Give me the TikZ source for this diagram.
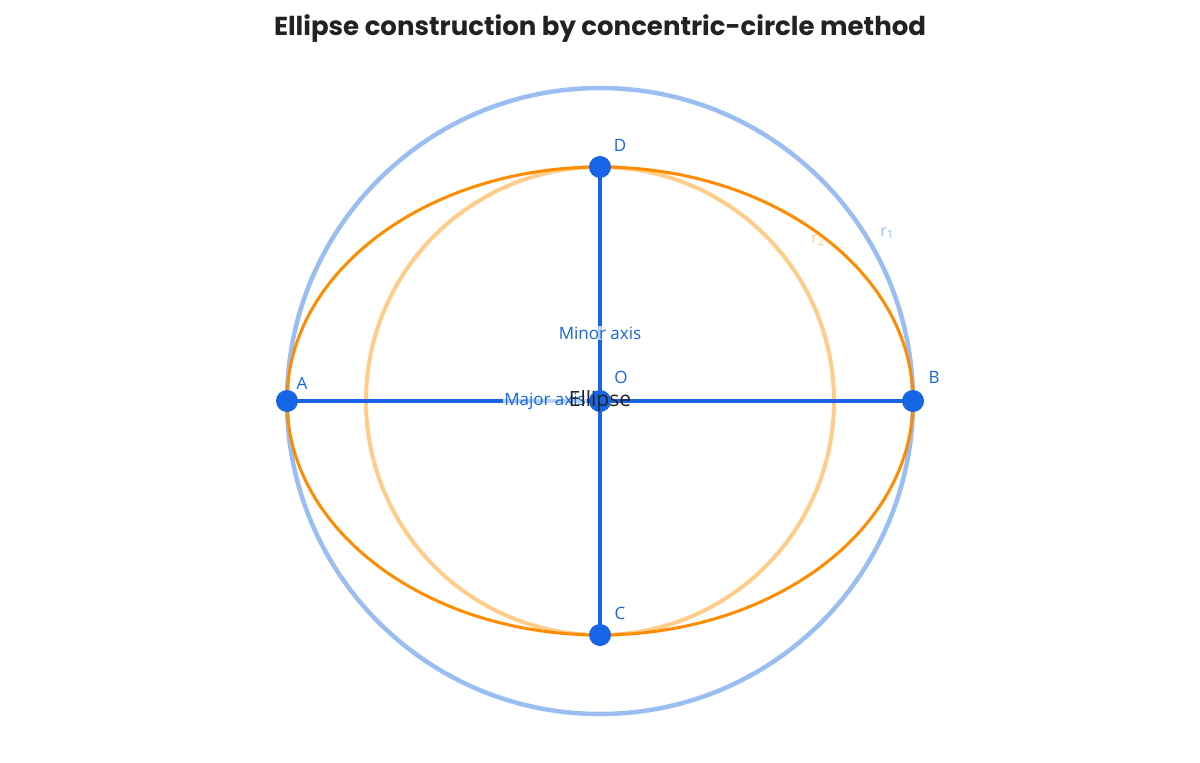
\documentclass[tikz,border=0pt]{standalone}
\usepackage{fontspec}
\setmainfont{Open Sans}
\newfontfamily\titlefont{Poppins}
\definecolor{blu}{HTML}{1565E6}
\definecolor{lblu}{HTML}{9ABEF2}
\definecolor{org}{HTML}{FF8C00}
\definecolor{lorg}{HTML}{FFCC8A}
\definecolor{dark}{HTML}{222222}
\tikzset{
  axisline/.style={blu,line width=4pt},
  pt/.style={circle,fill=blu,inner sep=0pt,minimum size=22pt},
  lab/.style={text=blu,font=\fontsize{17}{19}\selectfont,inner sep=1pt},
  axlab/.style={lab,fill=white,fill opacity=0.7,text opacity=1},
}
\begin{document}
\begin{tikzpicture}[x=1pt,y=-1pt]
\useasboundingbox (0,0) rectangle (1200,763);
\node[font=\titlefont\fontsize{26}{30}\selectfont\bfseries,text=dark] (title) at (600,29) {Ellipse construction by concentric-circle method};
\coordinate (O) at (600,401);
\draw[lblu,line width=4.5pt] (O) circle[radius=313];
\draw[lorg,line width=4pt] (O) circle[radius=234];
\draw[org,line width=3pt] (O) ellipse[x radius=313,y radius=234];
\node[pt] (A) at (287,401) {};
\node[pt] (B) at (913,401) {};
\node[pt] (D) at (600,167) {};
\node[pt] (C) at (600,635) {};
\draw[axisline] (A.center) -- (B.center);
\draw[axisline] (D.center) -- (C.center);
\node[pt] (Odot) at (O) {};
\node[axlab] (minor) at (600,333) {Minor axis};
\node[axlab] (major) at (545,401) {Major axis};
\node[text=dark,font=\fontsize{21}{23}\selectfont] (ell) at (600,401) {Ellipse};
\node[lab] at (620,145) {D};
\node[lab] at (620,613) {C};
\node[lab] at (302,383) {A};
\node[lab] at (934,377) {B};
\node[lab] at (621,377) {O};
\node[text=lblu,font=\fontsize{16}{18}\selectfont] at (887,233) {r\textsubscript{1}};
\node[text=lorg,font=\fontsize{16}{18}\selectfont] at (818,240) {r\textsubscript{2}};
\end{tikzpicture}
\end{document}
